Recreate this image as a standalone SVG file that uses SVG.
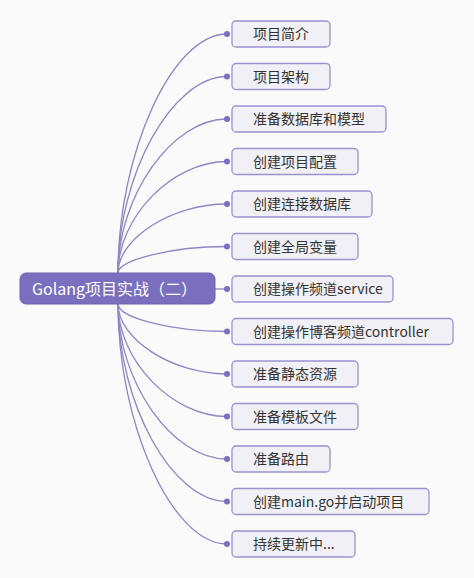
<svg xmlns="http://www.w3.org/2000/svg" width="474" height="578" viewBox="0 0 474 578">
<style>
.bg{fill:#fafafa}
.ln{fill:none;stroke:#8d86c6;stroke-width:1.3}
.dot{fill:#7a70c2}
.box{fill:#f1f0f7;stroke:#9a92cf;stroke-width:1.3}
.t{font-family:"Microsoft YaHei","Noto Sans CJK SC","Noto Sans",sans-serif;font-size:14px;fill:#333}
.root rect{fill:#7a6fbe;stroke:#6e63b2;stroke-width:1}
.root text{font-family:"Microsoft YaHei","Noto Sans CJK SC","Noto Sans",sans-serif;font-size:16px;fill:#fff}
</style>
<rect class="bg" x="0" y="0" width="474" height="578"/>
<g id="connectors">
<path class="ln" d="M118,273 C118,153.5 172,34 227,34"/>
<path class="ln" d="M118,273 C118,174.75 172,76.5 227,76.5"/>
<path class="ln" d="M118,273 C118,196 172,119 227,119"/>
<path class="ln" d="M118,273 C118,217.25 172,161.5 227,161.5"/>
<path class="ln" d="M118,273 C118,238.5 172,204 227,204"/>
<path class="ln" d="M118,273 C118,259.75 172,246.5 227,246.5"/>
<path class="ln" d="M215,289 L227,289"/>
<path class="ln" d="M118,304 C118,317.75 172,331.5 227,331.5"/>
<path class="ln" d="M118,304 C118,339 172,374 227,374"/>
<path class="ln" d="M118,304 C118,360.25 172,416.5 227,416.5"/>
<path class="ln" d="M118,304 C118,381.5 172,459 227,459"/>
<path class="ln" d="M118,304 C118,402.75 172,501.5 227,501.5"/>
<path class="ln" d="M118,304 C118,424 172,544 227,544"/>
<circle class="dot" cx="227" cy="34" r="3"/>
<circle class="dot" cx="227" cy="76.5" r="3"/>
<circle class="dot" cx="227" cy="119" r="3"/>
<circle class="dot" cx="227" cy="161.5" r="3"/>
<circle class="dot" cx="227" cy="204" r="3"/>
<circle class="dot" cx="227" cy="246.5" r="3"/>
<circle class="dot" cx="227" cy="289" r="3"/>
<circle class="dot" cx="227" cy="331.5" r="3"/>
<circle class="dot" cx="227" cy="374" r="3"/>
<circle class="dot" cx="227" cy="416.5" r="3"/>
<circle class="dot" cx="227" cy="459" r="3"/>
<circle class="dot" cx="227" cy="501.5" r="3"/>
<circle class="dot" cx="227" cy="544" r="3"/>
</g>
<g id="root" class="root">
<rect x="20" y="273" width="195" height="31" rx="6"/>
<text x="32" y="294.5">Golang项目实战（二）</text>
</g>
<g id="n1"><rect class="box" x="232" y="21" width="98" height="26" rx="4"/><text class="t" x="253" y="39">项目简介</text></g>
<g id="n2"><rect class="box" x="232" y="63.5" width="98" height="26" rx="4"/><text class="t" x="253" y="81.5">项目架构</text></g>
<g id="n3"><rect class="box" x="232" y="106" width="154" height="26" rx="4"/><text class="t" x="253" y="124">准备数据库和模型</text></g>
<g id="n4"><rect class="box" x="232" y="148.5" width="126" height="26" rx="4"/><text class="t" x="253" y="166.5">创建项目配置</text></g>
<g id="n5"><rect class="box" x="232" y="191" width="140" height="26" rx="4"/><text class="t" x="253" y="209">创建连接数据库</text></g>
<g id="n6"><rect class="box" x="232" y="233.5" width="126" height="26" rx="4"/><text class="t" x="253" y="251.5">创建全局变量</text></g>
<g id="n7"><rect class="box" x="232" y="276" width="161" height="26" rx="4"/><text class="t" x="253" y="294">创建操作频道service</text></g>
<g id="n8"><rect class="box" x="232" y="318.5" width="221" height="26" rx="4"/><text class="t" x="253" y="336.5">创建操作博客频道controller</text></g>
<g id="n9"><rect class="box" x="232" y="361" width="126" height="26" rx="4"/><text class="t" x="253" y="379">准备静态资源</text></g>
<g id="n10"><rect class="box" x="232" y="403.5" width="126" height="26" rx="4"/><text class="t" x="253" y="421.5">准备模板文件</text></g>
<g id="n11"><rect class="box" x="232" y="446" width="98" height="26" rx="4"/><text class="t" x="253" y="464">准备路由</text></g>
<g id="n12"><rect class="box" x="232" y="488.5" width="197" height="26" rx="4"/><text class="t" x="253" y="506.5">创建main.go并启动项目</text></g>
<g id="n13"><rect class="box" x="232" y="531" width="123" height="26" rx="4"/><text class="t" x="253" y="549">持续更新中...</text></g>
</svg>
